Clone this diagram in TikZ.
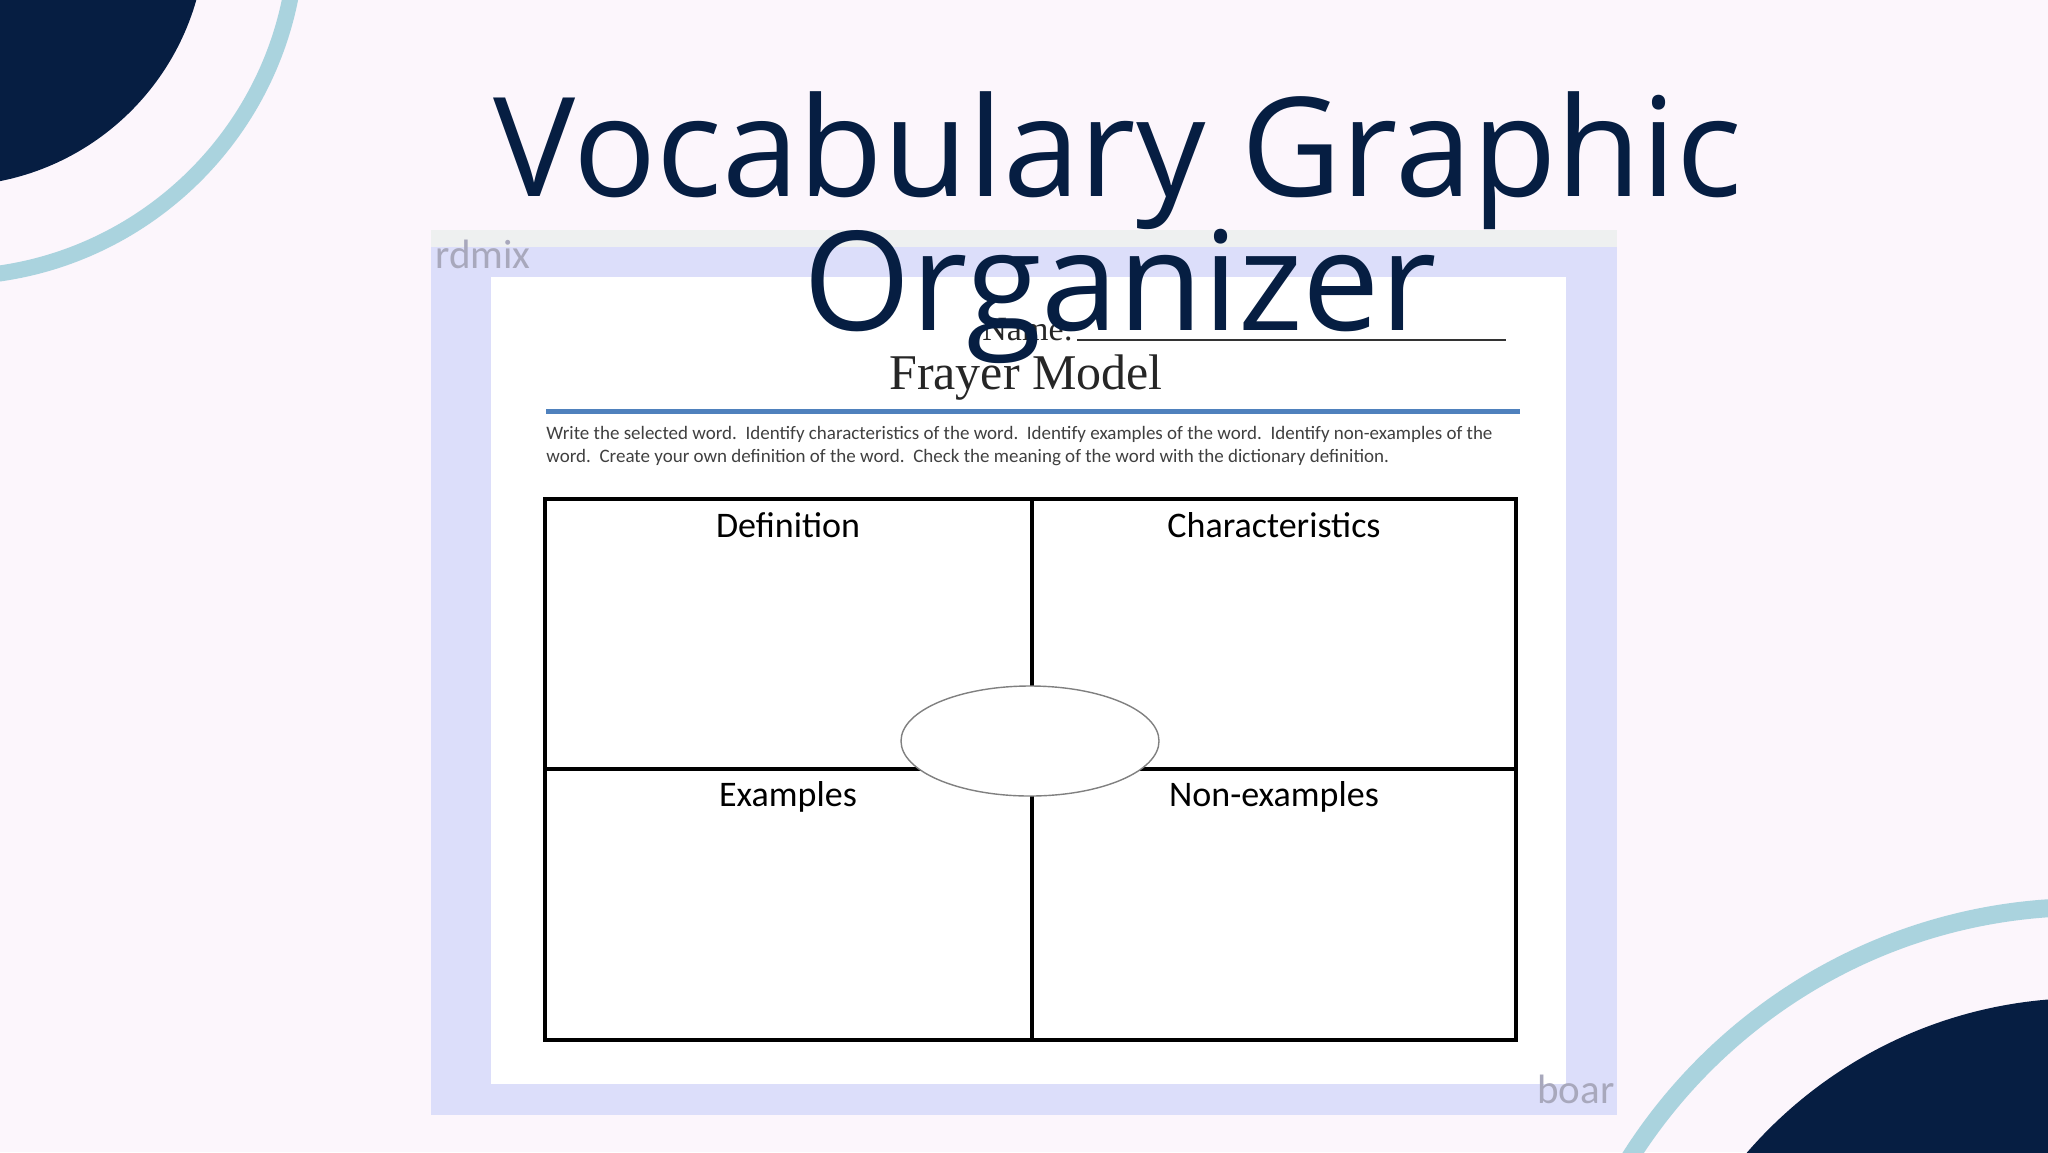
\documentclass[tikz,border=0pt]{standalone}
\usepackage{fontspec}
\usetikzlibrary{shapes.geometric}
\newfontfamily\titlefont{Open Sans}
\newfontfamily\calfont{Carlito}
\newfontfamily\docfont{Liberation Serif}
\definecolor{slidebg}{RGB}{252,246,252}
\definecolor{navy}{RGB}{6,30,66}
\definecolor{ringblue}{RGB}{170,211,222}
\definecolor{panelblue}{RGB}{220,222,250}
\definecolor{stripgray}{RGB}{238,240,240}
\definecolor{markgray}{RGB}{168,168,188}
\definecolor{rulblue}{RGB}{79,129,189}
\tikzset{
  gridline/.style={line width=2pt, black},
  celllabel/.style={anchor=base, inner sep=0pt, font=\calfont\fontsize{18pt}{20pt}\selectfont},
  notetext/.style={anchor=base west, inner sep=0pt, text=black!75, font=\calfont\fontsize{9.5pt}{11pt}\selectfont},
  marktext/.style={anchor=base west, inner sep=0pt, text=markgray, font=\calfont\fontsize{20.5pt}{22pt}\selectfont},
  titleline/.style={anchor=base, inner sep=0pt, text=navy, font=\titlefont\fontsize{69pt}{67pt}\selectfont},
  wordoval/.style={ellipse, draw=black!50, line width=0.7pt, fill=white, minimum width=129pt, minimum height=55pt, inner sep=0pt}
}
\begin{document}
                  \begin{tikzpicture}[x=0.5pt,y=-0.5pt]

                    \useasboundingbox (0,0) rectangle (2048,1152);
                    \clip (0,0) rectangle (2048,1152);
                    \fill[slidebg] (0,0) rectangle (2048,1152);

                    \fill[navy] (-50,-70) circle[radius=256];
                    \draw[ringblue, line width=8pt] (-50,-70) circle[radius=347];
                    \fill[navy] (2085,1445) circle[radius=447];
                    \draw[ringblue, line width=9pt] (2085,1445) circle[radius=538];

                    \fill[panelblue] (431,230) rectangle (1617,1115);
                    \fill[stripgray] (431,230) rectangle (1617,247);
                    \fill[white] (491,277) rectangle (1566,1084);
                    \node[marktext] (mark1) at (435,268) {rdmix};
                    \node[marktext] (mark2) at (1537,1103) {boar};

                    \node[anchor=base west, inner sep=0pt, text=black!85, font=\docfont\fontsize{17pt}{19pt}\selectfont] (name) at (982,340) {Name:};
                    \coordinate (lineend) at (1506,340);
                    \draw[black!80, line width=0.75pt] (name.base east) ++(4,0) -- (lineend);
                    \node[anchor=base, inner sep=0pt, text=black!85, font=\docfont\fontsize{25pt}{27pt}\selectfont] (frayer) at (1026,389) {Frayer Model};
                    \coordinate (rulea) at (546,411);
                    \coordinate (ruleb) at (1520,411);
                    \draw[rulblue, line width=2.5pt] (rulea) -- (ruleb);

                    \node[notetext] (note1) at (546,439) {Write the selected word.\ \ Identify characteristics of the word.\ \ Identify examples of the word.\ \ Identify non-examples of the};
                    \node[notetext] (note2) at (546,462) {word.\ \ Create your own definition of the word.\ \ Check the meaning of the word with the dictionary definition.};

                    \draw[gridline] (545,499) rectangle (1516,1040);
                    \draw[gridline] (1032,499) -- (1032,1040);
                    \draw[gridline] (545,769) -- (1516,769);
                    \node[wordoval] (word) at (1030,741) {};

                    \node[celllabel] (defn) at (788,537) {Definition};
                    \node[celllabel] (chars) at (1274,537) {Characteristics};
                    \node[celllabel] (exmp) at (788,806) {Examples};
                    \node[celllabel] (nonex) at (1274,806) {Non-examples};

                    \node[titleline] (title1) at (1118,196) {Vocabulary Graphic};
                    \node[titleline] (title2) at (1120,330) {Organizer};

                  \end{tikzpicture}
\end{document}
